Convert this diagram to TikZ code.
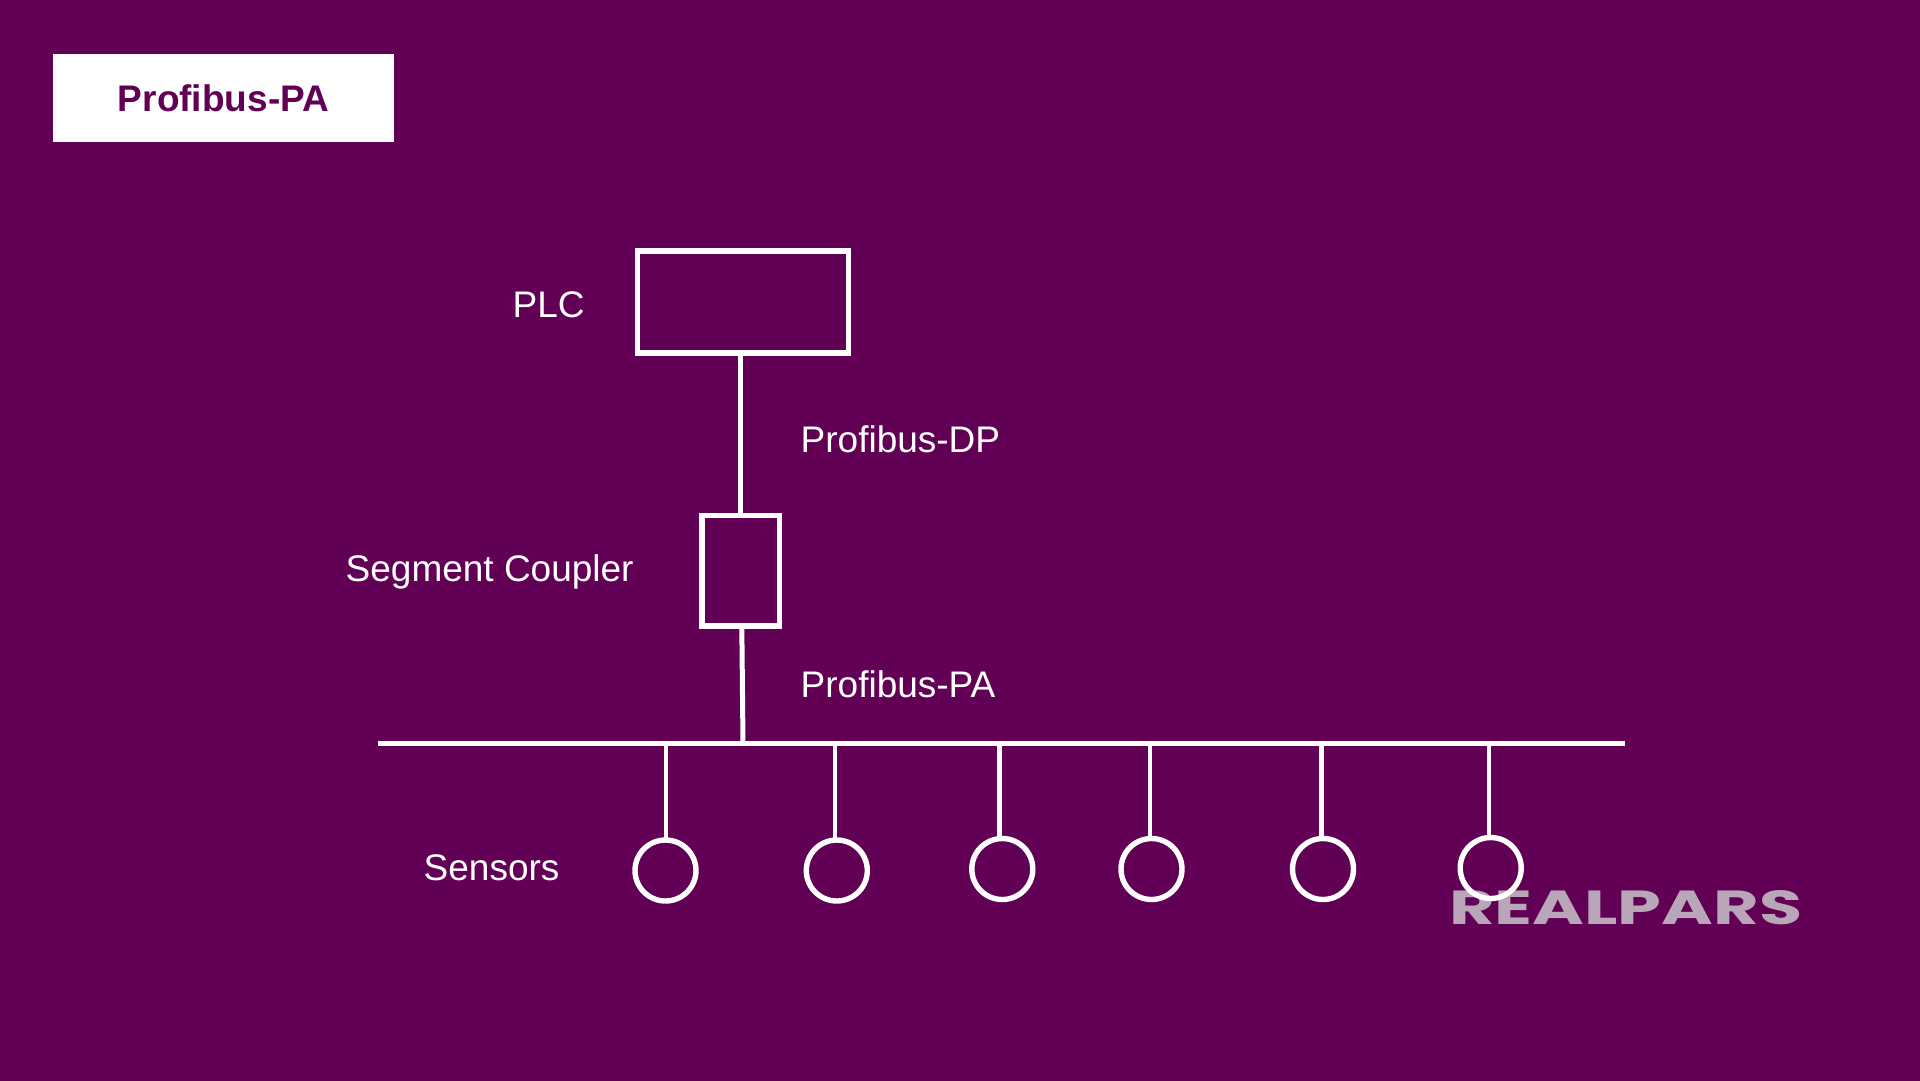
\documentclass[tikz,border=0pt]{standalone}
\usepackage{fontspec}
\usepackage{graphicx}
\setmainfont{Liberation Sans}
\newfontfamily\logofont{Poppins}
\definecolor{bgpurple}{HTML}{610054}
\definecolor{logogrey}{HTML}{B9A6B8}
\tikzset{
  x=1pt,y=-1pt,
  wire/.style={draw=white,line width=5pt},
  stem/.style={draw=white,line width=4.4pt},
  boxshape/.style={draw=white,line width=5.4pt,rectangle,inner sep=0pt,outer sep=0pt},
  sensor/.style={draw=white,line width=5.4pt,circle,minimum size=61pt,inner sep=0pt,outer sep=0pt},
  lbl/.style={text=white,anchor=base west,inner sep=0pt,font=\fontsize{37}{40}\selectfont},
}
\begin{document}
\begin{tikzpicture}
\useasboundingbox (0,0) rectangle (1920,1080);
\fill[bgpurple] (-3,-3) rectangle (1923,1083);
% title
\node[fill=white,rectangle,inner sep=0pt,minimum width=340.5pt,minimum height=88pt,text=bgpurple,font=\fontsize{37}{40}\selectfont\bfseries] (title) at (223.5,98) {Profibus-PA\hspace{6pt}};
% logo
\node[inner sep=0pt,anchor=north west,text=logogrey] (logo) at (1449,890) {\resizebox{353pt}{34pt}{\logofont\bfseries REALPARS}};
% boxes
\node[boxshape,minimum width=211pt,minimum height=102pt] (plc) at (742.8,302) {};
\node[boxshape,minimum width=77.5pt,minimum height=110.5pt] (coupler) at (740.8,570.7) {};
% bus
\coordinate (busL) at (377.5,743);
\coordinate (busR) at (1625,743);
\draw[wire] (busL) -- (busR);
\coordinate (busP) at (743,743);
\draw[wire] (plc.south -| coupler.north) -- (coupler.north);
\draw[wire] (coupler.south) ++(1,0) coordinate (cs) -- (busP);
% sensors
\node[sensor] (s1) at (665.5,870.5) {};
\node[sensor] (s2) at (836.8,870.5) {};
\node[sensor] (s3) at (1002.3,869) {};
\node[sensor] (s4) at (1151.5,869) {};
\node[sensor] (s5) at (1323,869) {};
\node[sensor] (s6) at (1490.7,868) {};
\foreach \n/\x in {1/666,2/835,3/999.5,4/1150,5/1321.5,6/1489}{
  \coordinate (t\n) at (\x,743);
  \draw[stem] (t\n) -- (t\n |- s\n.north);
}
% labels
\node[lbl] (lplc) at (512.5,317) {PLC};
\node[lbl] (ldp) at (800.5,452) {Profibus-DP};
\node[lbl] (lsc) at (345.5,581.5) {Segment Coupler};
\node[lbl] (lpa) at (800.5,697) {Profibus-PA};
\node[lbl] (lsn) at (423.5,880) {Sensors};
\end{tikzpicture}
\end{document}
